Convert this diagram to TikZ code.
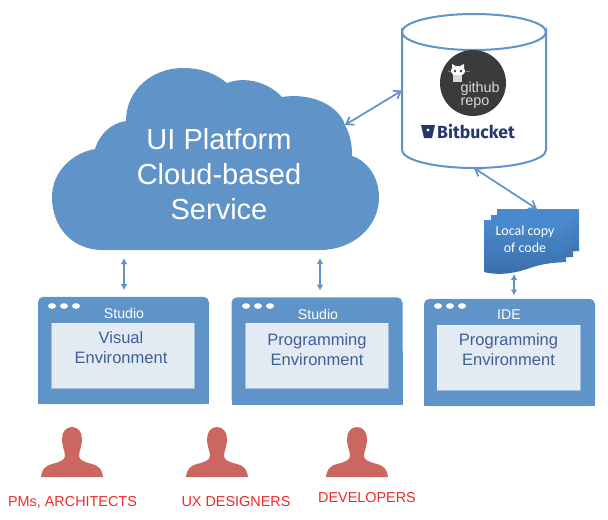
\documentclass[tikz,border=0pt]{standalone}
\usepackage{fontspec}
\setmainfont{Liberation Sans}
\newfontfamily\calibrifont{Carlito}
\newfontfamily\logofont{Fira Sans}
\usetikzlibrary{arrows.meta}
\definecolor{cloudblue}{RGB}{96,148,201}
\definecolor{panelblue}{RGB}{227,234,244}
\definecolor{paneltext}{RGB}{62,96,148}
\definecolor{personred}{RGB}{204,102,96}
\definecolor{labelred}{RGB}{240,40,40}
\definecolor{navylogo}{RGB}{37,56,110}
\definecolor{sheettopblue}{RGB}{74,139,208}
\definecolor{sheetlowblue}{RGB}{58,110,168}
\tikzset{
	every picture/.style={line width=0.75pt},
	winbox/.style={fill=cloudblue,rounded corners=4pt,minimum width=128.25pt,minimum height=80.5pt,inner sep=0pt,outer sep=0pt},
	winpanel/.style={fill=panelblue,draw=white,draw opacity=0.4,line width=0.4pt,minimum width=107pt,minimum height=48.75pt,inner sep=0pt},
	wintitle/.style={text=white,font=\fontsize{10.6}{12}\selectfont,inner sep=0pt},
	wintext/.style={text=paneltext,align=center,font=\fontsize{12.4}{15}\selectfont,inner sep=0pt},
	windot/.style={fill=white},
	sheet/.style={top color=sheettopblue,bottom color=sheetlowblue,draw=none},
	bigarrow/.style={draw=cloudblue,line width=1.3pt,{Straight Barb[length=5pt,width=7pt]}-{Straight Barb[length=5pt,width=7pt]}},
	smallarrow/.style={draw=cloudblue,line width=1.3pt,{Latex[length=4.5pt,width=5pt]}-{Latex[length=4.5pt,width=5pt]}},
	rolelabel/.style={text=labelred,font=\fontsize{10.8}{13}\selectfont,inner sep=0pt},
	person/.pic={
		\fill[personred,yscale=-1] (0,0) .. controls (6,0) and (10,5) .. (10,12) .. controls (10,20) and (7,24) .. (7,29) .. controls (7,33) and (12,35) .. (20,37) .. controls (27,39) and (30,42) .. (31,50) -- (-31,50) .. controls (-30,42) and (-27,39) .. (-20,37) .. controls (-12,35) and (-7,33) .. (-7,29) .. controls (-7,24) and (-10,20) .. (-10,12) .. controls (-10,5) and (-6,0) .. (0,0) -- cycle;
	},
	codesheet/.pic={
		\path[sheet,yscale=-1] (0,0) -- (82,0) -- (82,42) .. controls (65,43) and (58,44) .. (46,48) .. controls (32,53) and (16,56) .. (0,52) -- cycle;
	}
}

\begin{document}
\begin{tikzpicture}[x=0.75pt,y=0.75pt,yscale=-1,xscale=1]
	\useasboundingbox (0,0) rectangle (608,519);

	%Cloud
	\fill[cloudblue] (103,250) .. controls (70,250) and (52,225) .. (52,197) .. controls (52,172) and (72,153) .. (95,149) .. controls (100,133) and (112,123) .. (126,121) .. controls (126,90) and (152,68) .. (183,68) .. controls (202,68) and (216,74) .. (227,83) .. controls (245,76) and (268,82) .. (282,97) .. controls (315,92) and (340,108) .. (345,125) .. controls (351,136) and (352,146) .. (352,156) .. controls (368,161) and (379,178) .. (379,197) .. controls (379,228) and (352,250) .. (320,250) -- cycle;
	\node[text=white,align=center,inner sep=0pt,font=\fontsize{21.75}{26.25}\selectfont] (cloud) at (219,174) {UI Platform\\Cloud-based\\Service};
	\coordinate (cloudrepo) at (345,125);
	\coordinate (cloudvisual) at (124,258);
	\coordinate (cloudprog) at (320,258);

	%Repository cylinder
	\node[minimum width=108pt,minimum height=116.25pt,inner sep=0pt,outer sep=0pt] (repo) at (474,90.5) {};
	\draw[cloudblue,line width=1.5pt,fill=white] (402,32) arc[start angle=180,end angle=0,x radius=72,y radius=18] -- (546,150) arc[start angle=0,end angle=180,x radius=72,y radius=18] -- cycle;
	\draw[cloudblue,line width=1.5pt] (402,32) arc[start angle=180,end angle=360,x radius=72,y radius=18];

	%github badge
	\node[circle,fill=black!77,minimum size=49.5pt,inner sep=0pt] (github) at (473,83) {};
	\fill[white] (458,71) ellipse [x radius=7,y radius=5];
	\fill[white] (452,68) -- (452,64) -- (456,66) -- cycle;
	\fill[white] (464,68) -- (464,64) -- (460,66) -- cycle;
	\fill[black!77] (455,71) circle (1.3) (461,71) circle (1.3);
	\fill[white!85!black] (453,75) rectangle (462,82);
	\draw[white!75!black,line width=0.3pt] (448,71) -- (451,72) (465,72) -- (470,71);
	\node[text=white!85!black,inner sep=0pt,align=left,anchor=west,font=\fontsize{10.8}{9.4}\selectfont] (githubtxt) at (460,95.5) {github\\repo};

	%Bitbucket logo
	\fill[navylogo] (421,125) -- (435,125) -- (432,138) -- (424,138) -- cycle;
	\fill[white] (428,130) circle (1.6);
	\node[text=navylogo,inner sep=0pt,font=\logofont\bfseries\fontsize{13.2}{14}\selectfont] (bitbucket) at (476,132) {Bitbucket};

	%Local copy sheets
	\pic at (497,209) {codesheet};
	\pic at (491,215) {codesheet};
	\pic at (484,220) {codesheet};
	\node[text=white,align=center,inner sep=0pt,font=\calibrifont\fontsize{10.5}{12.4}\selectfont] (localcopy) at (525,239) {Local copy\\of code};
	\coordinate (sheettop) at (537,209);
	\coordinate (sheetide) at (514,274);

	%Windows
	\node[winbox] (visualwin) at (123.5,350.5) {};
	\fill[cloudblue] (visualwin.west) rectangle (visualwin.south east);
	\node[winbox] (studiowin) at (317,351) {};
	\fill[cloudblue] (studiowin.west) rectangle (studiowin.south east);
	\node[winbox] (idewin) at (509.5,352.5) {};
	\fill[cloudblue] (idewin.west) rectangle (idewin.south east);

	\foreach \dotx/\doty in {52/306,64/306,76/306,246/306,258/306,270/306,438/306,450/306,462/306}
		\fill[windot] (\dotx,\doty) ellipse [x radius=4,y radius=2.8];

	\node[wintitle] (visualtitle) at (124,313) {Studio};
	\node[wintitle] (studiotitle) at (318,314) {Studio};
	\node[wintitle] (idetitle) at (509,315) {IDE};

	\node[winpanel] (visualpanel) at (123,355.5) {};
	\node[winpanel] (studiopanel) at (317,355.5) {};
	\node[winpanel] (idepanel) at (508.5,357.5) {};

	\node[wintext] (visualtxt) at (121,348) {Visual\\Environment};
	\node[wintext] (studiotxt) at (317,350) {Programming\\Environment};
	\node[wintext] (idetxt) at (508.5,350) {Programming\\Environment};

	%Arrows
	\draw[bigarrow] (cloudrepo) -- (repo.west);
	\draw[bigarrow] (repo.south) -- (sheettop);
	\draw[smallarrow,shorten >=2.5pt] (sheetide) -- (sheetide |- idewin.north);
	\draw[smallarrow,shorten >=5pt] (cloudvisual) -- (cloudvisual |- visualwin.north);
	\draw[smallarrow,shorten >=5pt] (cloudprog) -- (cloudprog |- studiowin.north);

	%People
	\pic at (72,427) {person};
	\pic at (217,427) {person};
	\pic at (357,427) {person};

	\node[rolelabel] (pmlabel) at (72.5,502) {PMs, ARCHITECTS};
	\node[rolelabel] (uxlabel) at (236,502) {UX DESIGNERS};
	\node[rolelabel] (devlabel) at (367,498) {DEVELOPERS};
\end{tikzpicture}
\end{document}
